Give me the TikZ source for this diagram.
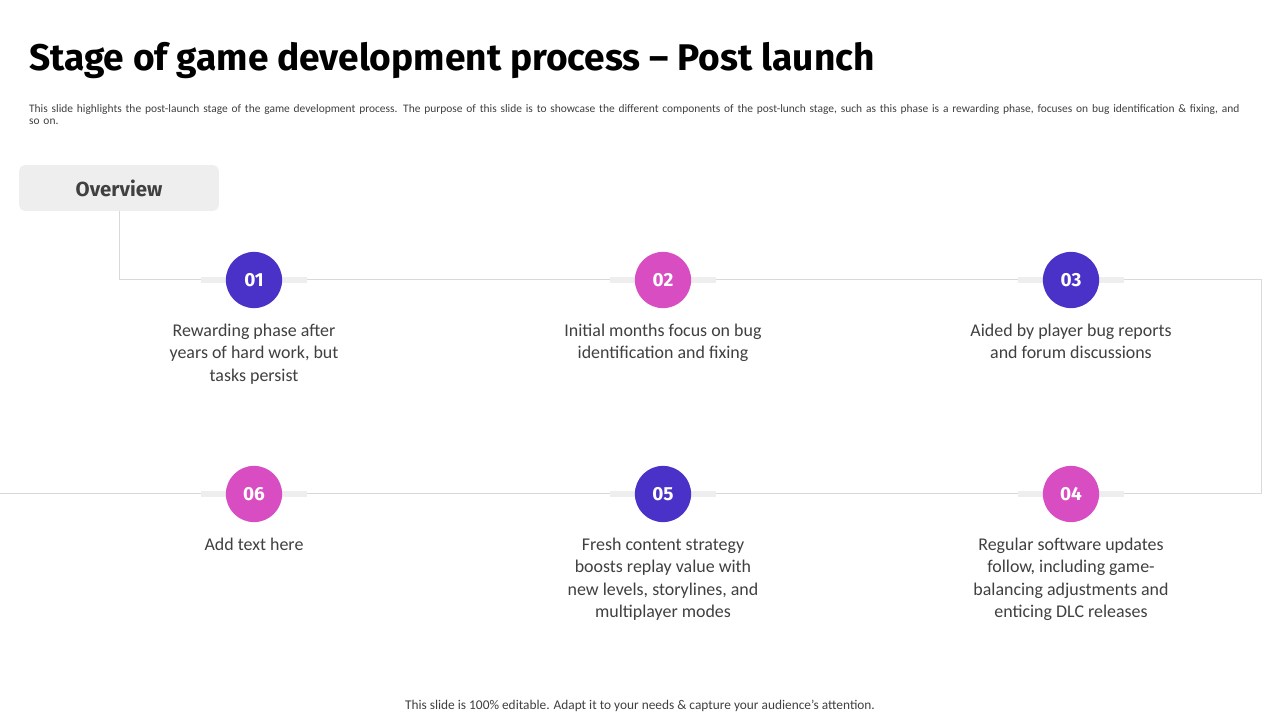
\documentclass[tikz,border=0pt]{standalone}
\usepackage{fontspec}
\setmainfont{Carlito}
\newfontfamily\headfont{Fira Sans}
\usetikzlibrary{positioning}
\definecolor{stepblue}{HTML}{4A32C8}
\definecolor{steppink}{HTML}{D84EC2}
\definecolor{linegray}{HTML}{D9D9D9}
\definecolor{bargray}{HTML}{EEEEEE}
\definecolor{textgray}{HTML}{404040}
\tikzset{every node/.style={align=center}, >= latex,
  num/.style={circle, minimum size=80, inner sep=0, text=white, font=\headfont\fontsize{27}{27}\selectfont\bfseries},
  desc/.style={below=22pt of #1, text=textgray, font=\fontsize{25.5}{32}\selectfont, inner sep=0},
  bar/.style={fill=bargray, minimum width=152, minimum height=9, inner sep=0}}

\begin{document}
\begin{tikzpicture}[x=0.5mm, y=-0.5mm]
  \useasboundingbox[fill=white] (0,0) rectangle (1280,720);
  % title and note
  \node[anchor=west, inner sep=0, font=\headfont\fontsize{52.8}{52.8}\selectfont\bfseries] (title) at (29,61) {Stage of game development process \textendash{} Post launch};
  \node[anchor=north west, inner sep=0, text width=1225*1.42pt, align=left, text=textgray, font=\fontsize{16.3}{18}\selectfont] (note) at (29,104) {This slide highlights the post-launch stage of the game development process. The purpose of this slide is to showcase the different components of the post-lunch stage, such as this phase is a rewarding phase, focuses on bug identification \& fixing, and so on.};
  \node[fill=bargray, rounded corners=8, minimum width=200*1.42pt, minimum height=46*1.42pt, text=textgray, font=\headfont\fontsize{29}{29}\selectfont\bfseries] (ov) at (119,188) {Overview};
  % path
  \coordinate (c1) at (119,279);
  \coordinate (c2) at (1261,279);
  \coordinate (c3) at (1261,493);
  \coordinate (c4) at (0,493);
  \draw[linegray, line width=1] (ov.south) -- (c1) -- (c2) -- (c3) -- (c4);
  % steps
  \foreach \n/\x/\y/\c in {01/254/280/stepblue, 02/663/280/steppink, 03/1071/280/stepblue,
                           06/254/494/steppink, 05/663/494/stepblue, 04/1071/494/steppink} {
    \node[bar] at (\x,\y) {};
    \node[num, fill=\c] (s\n) at (\x,\y) {\n};
  }
  \node[desc=s01] (t01) {Rewarding phase after\\years of hard work, but\\tasks persist};
  \node[desc=s02] (t02) {Initial months focus on bug\\identification and fixing};
  \node[desc=s03] (t03) {Aided by player bug reports\\and forum discussions};
  \node[desc=s06] (t06) {Add text here};
  \node[desc=s05] (t05) {Fresh content strategy\\boosts replay value with\\new levels, storylines, and\\multiplayer modes};
  \node[desc=s04] (t04) {Regular software updates\\follow, including game-\\balancing adjustments and\\enticing DLC releases};
  \node[text=textgray, font=\fontsize{19}{19}\selectfont] (foot) at (640,706) {This slide is 100\% editable. Adapt it to your needs \& capture your audience's attention.};
\end{tikzpicture}
\end{document}
